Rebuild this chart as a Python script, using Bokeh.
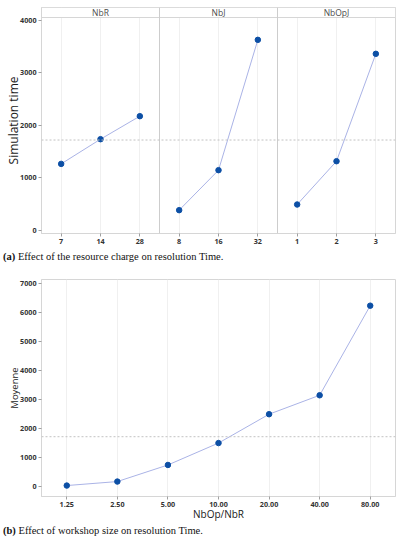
from bokeh.plotting import figure
from bokeh.models import Range1d, FixedTicker, Span, Div
from bokeh.layouts import column
from bokeh.core.properties import value
from bokeh.embed import file_html
from bokeh.resources import INLINE

# ---- data (a) ----
factor_names = ["NbR", "NbJ", "NbOpJ"]
factor_levels = [["7", "14", "28"], ["8", "16", "32"], ["1", "2", "3"]]
nbr_means = [1265, 1736, 2175]
nbj_means = [382, 1145, 3631]
nbopj_means = [490, 1316, 3364]
grand_mean = 1720
y_ticks_a = [0, 1000, 2000, 3000, 4000]

# ---- data (b) ----
ratio_labels = ["1.25", "2.50", "5.00", "10.00", "20.00", "40.00", "80.00"]
ratio_means = [34, 172, 745, 1501, 2497, 3151, 6244]
y_ticks_b = [0, 1000, 2000, 3000, 4000, 5000, 6000, 7000]

caption_a = "<b>(a)</b> Effect of the resource charge on resolution Time."
caption_b = "<b>(b)</b> Effect of workshop size on resolution Time."

LINE_C = "#aab3e6"
DOT_C = "#0c4fa5"
FRAME_C = "#d6d6d6"
TICK_FONT = "Open Sans"


def style(p, xticks, yticks, overrides):
    p.xaxis.ticker = FixedTicker(ticks=xticks)
    p.yaxis.ticker = FixedTicker(ticks=yticks)
    p.xaxis.major_label_overrides = overrides
    for ax in (p.xaxis, p.yaxis):
        ax.axis_line_color = FRAME_C
        ax.major_tick_line_color = "#a0a0a0"
        ax.major_tick_out = 3
        ax.major_tick_in = 0
        ax.minor_tick_line_color = None
        ax.major_label_text_font = TICK_FONT
        ax.major_label_text_font_size = "7.2px"
        ax.major_label_text_font_style = "bold"
        ax.major_label_text_color = "#333333"
        ax.major_label_standoff = 2
        ax.axis_label_text_font = "Open Sans"
        ax.axis_label_text_font_style = "normal"
        ax.axis_label_text_color = "#1a1a1a"
        ax.axis_label_standoff = -3
    p.xgrid.grid_line_color = "#f0f0f0"
    p.ygrid.grid_line_color = None
    p.outline_line_color = FRAME_C
    p.background_fill_color = "white"
    p.border_fill_color = "white"


# ---------------- figure (a) ----------------
pa = figure(width=404, height=249, output_backend="svg", toolbar_location=None,
            x_range=Range1d(0.5, 9.5), y_range=Range1d(-63, 4248),
            min_border_left=41, min_border_right=9, min_border_top=7,
            min_border_bottom=16)
xt = []
ov = {}
series_a = [nbr_means, nbj_means, nbopj_means]
for gi, (levels, vals) in enumerate(zip(factor_levels, series_a)):
    xs = [gi * 3 + i + 1 for i in range(len(vals))]
    for x, lab in zip(xs, levels):
        xt.append(x)
        ov[x] = lab
    pa.line(xs, vals, line_color=LINE_C, line_width=1)
    pa.scatter(xs, vals, size=5.5, fill_color=DOT_C, line_color=DOT_C)

style(pa, xt, y_ticks_a, ov)
pa.yaxis.axis_label = "Simulation time"
pa.yaxis.axis_label_text_font_size = "12px"
pa.yaxis.axis_label_standoff = -5

# strip header
strip_bottom = 4057
strip_top = 4248
n = len(factor_names)
pa.quad(left=[g * 3 + 0.5 for g in range(n)], right=[g * 3 + 3.5 for g in range(n)],
        bottom=strip_bottom, top=strip_top, fill_color="white",
        line_color=FRAME_C, line_width=1)
pa.text(x=[g * 3 + 2 for g in range(n)], y=[(strip_bottom + strip_top) / 2] * n,
        text=factor_names, text_font=value("Open Sans"), text_font_size="8.5px",
        text_color="#4d4d4d", text_align="center", text_baseline="middle")

for d in (3.5, 6.5):
    pa.add_layout(Span(location=d, dimension="height", line_color="#cdcdcd",
                       line_width=1))
pa.add_layout(Span(location=grand_mean, dimension="width", line_color="#c2c2c2",
                   line_dash="2 2", line_width=1))

cap_style = {"font-family": "Liberation Serif", "font-size": "10.5px",
             "color": "#111111", "line-height": "16px", "white-space": "nowrap",
             "padding-left": "3px"}
div_a = Div(text=caption_a, width=404, height=16, margin=(0, 0, 0, 0),
            styles=cap_style)

# ---------------- figure (b) ----------------
pb = figure(width=404, height=258, output_backend="svg", toolbar_location=None,
            x_range=Range1d(0.5, 7.5), y_range=Range1d(-344, 7148),
            min_border_left=40, min_border_right=6, min_border_top=14,
            min_border_bottom=26)
xb = list(range(1, len(ratio_means) + 1))
pb.line(xb, ratio_means, line_color=LINE_C, line_width=1)
pb.scatter(xb, ratio_means, size=5.5, fill_color=DOT_C, line_color=DOT_C)
style(pb, xb, y_ticks_b, {x: l for x, l in zip(xb, ratio_labels)})
pb.xaxis.axis_label = "NbOp/NbR"
pb.xaxis.axis_label_text_font_size = "10px"
pb.xaxis.axis_label_standoff = -3
pb.yaxis.axis_label = "Moyenne"
pb.yaxis.axis_label_text_font_size = "9.5px"
pb.yaxis.axis_label_standoff = -4
pb.add_layout(Span(location=grand_mean, dimension="width", line_color="#c2c2c2",
                   line_dash="2 2", line_width=1))

div_b = Div(text=caption_b, width=404, height=16, margin=(0, 0, 0, 0),
            styles=cap_style)

layout = column(pa, div_a, pb, div_b, spacing=0)
open("out.html", "w").write(file_html(layout, INLINE))
